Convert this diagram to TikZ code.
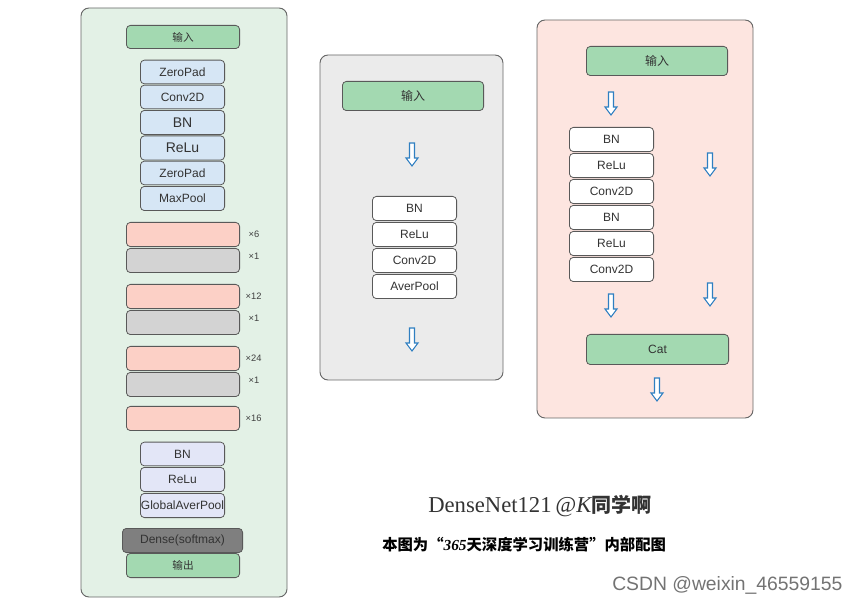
\documentclass[tikz,border=0pt]{standalone}
\usepackage{fontspec}
\setmainfont{Liberation Sans}
\newfontfamily\cjk{Noto Sans CJK SC}
\newfontfamily\serifx{Liberation Serif}
\definecolor{pgreen}{HTML}{E3F1E6}
\definecolor{pgray}{HTML}{EBEBEB}
\definecolor{ppink}{HTML}{FDE5E0}
\definecolor{bgreen}{HTML}{A3D9B1}
\definecolor{bblue}{HTML}{D6E6F5}
\definecolor{bpink}{HTML}{FCD0C6}
\definecolor{bgray}{HTML}{D3D3D3}
\definecolor{blav}{HTML}{E3E6F7}
\definecolor{bdark}{HTML}{7F7F7F}
\definecolor{arr}{HTML}{2F7FC1}
\tikzset{
 panel/.style={draw=black!60,line width=0.7pt,rounded corners=6pt},
 box/.style={draw=black!65,line width=0.6pt,rounded corners=3pt,inner sep=0pt,font=\fontsize{9}{10}\selectfont,text=black!80},
 mult/.style={font=\fontsize{7}{8}\selectfont,text=black!75,anchor=west},
 darr/.pic={\draw[arr,fill=white,line width=0.8pt] (-2.5,0)--(2.5,0)--(2.5,15)--(6,15)--(0,23)--(-6,15)--(-2.5,15)--cycle;}
}
\newcommand{\bx}[6]{\node[box,fill=#5,minimum width=#3*0.75pt-0.6pt,minimum height=#4*0.75pt-0.6pt] (#1) at (#2) {#6};}
\begin{document}
\begin{tikzpicture}[x=0.75pt,y=-0.75pt]
\useasboundingbox (0,0) rectangle (860,605);
% panels
\draw[panel,fill=pgreen] (81,8) rectangle (287,597);
\draw[panel,fill=pgray] (320,55) rectangle (503,380);
\draw[panel,fill=ppink] (537,20) rectangle (753,418);
% left column
\bx{lin}{183,37}{114}{24}{bgreen}{\cjk\fontsize{8}{9}\selectfont 输入}
\bx{l1}{182.5,72}{85}{24.5}{bblue}{ZeroPad}
\bx{l2}{182.5,97}{85}{24.5}{bblue}{Conv2D}
\bx{l3}{182.5,122.5}{85}{25}{bblue}{\fontsize{10.5}{11}\selectfont BN}
\bx{l4}{182.5,148}{85}{25}{bblue}{\fontsize{10.5}{11}\selectfont ReLu}
\bx{l5}{182.5,173}{85}{24.5}{bblue}{ZeroPad}
\bx{l6}{182.5,198.5}{85}{25}{bblue}{MaxPool}
\bx{p1}{183,234.5}{114}{25}{bpink}{}
\bx{g1}{183,260.5}{114}{25}{bgray}{}
\bx{p2}{183,296.5}{114}{25}{bpink}{}
\bx{g2}{183,322.5}{114}{25}{bgray}{}
\bx{p3}{183,358.5}{114}{25}{bpink}{}
\bx{g3}{183,384.5}{114}{25}{bgray}{}
\bx{p4}{183,418.5}{114}{25}{bpink}{}
\node[mult] (m1) at (244,234) {×6};
\node[mult] (m2) at (244,256) {×1};
\node[mult] (m3) at (241,296) {×12};
\node[mult] (m4) at (244,318) {×1};
\node[mult] (m5) at (241,358) {×24};
\node[mult] (m6) at (244,380) {×1};
\node[mult] (m7) at (241,418) {×16};
\bx{b1}{182.5,454}{85}{24.5}{blav}{BN}
\bx{b2}{182.5,479.5}{85}{25}{blav}{ReLu}
\bx{b3}{182.5,505.5}{85}{25}{blav}{GlobalAverPool}
\bx{dn}{182.5,540.5}{121}{25}{bdark}{Dense(softmax)}
\bx{lout}{183,565.5}{114}{25}{bgreen}{\cjk\fontsize{8}{9}\selectfont 输出}
% middle
\bx{min}{413,96}{142}{30}{bgreen}{\cjk\fontsize{9}{10}\selectfont 输入}
\pic at (412,143) {darr};
\bx{mb1}{414.5,208.5}{85}{25}{white}{BN}
\bx{mb2}{414.5,234.5}{85}{25}{white}{ReLu}
\bx{mb3}{414.5,260.5}{85}{25}{white}{Conv2D}
\bx{mb4}{414.5,286.5}{85}{25}{white}{AverPool}
\pic at (412,328) {darr};
% right
\bx{rin}{657,61}{142}{30}{bgreen}{\cjk\fontsize{9}{10}\selectfont 输入}
\pic at (611,92) {darr};
\bx{r1}{611.5,139.5}{85}{25}{white}{BN}
\bx{r2}{611.5,165.5}{85}{25}{white}{ReLu}
\bx{r3}{611.5,191.5}{85}{25}{white}{Conv2D}
\bx{r4}{611.5,217.5}{85}{25}{white}{BN}
\bx{r5}{611.5,243.5}{85}{25}{white}{ReLu}
\bx{r6}{611.5,269.5}{85}{25}{white}{Conv2D}
\pic at (710,153) {darr};
\pic at (611,294) {darr};
\pic at (710,283) {darr};
\bx{cat}{657.5,349.5}{143}{31}{bgreen}{Cat}
\pic at (657,378) {darr};
% texts
\node[inner sep=0pt,anchor=west,text=black!80] (t1) at (428,506) {\serifx\fontsize{17}{19}\selectfont DenseNet121\,{\itshape @K}{\cjk\bfseries\fontsize{15}{17}\selectfont 同学啊}};
\node[inner sep=0pt,anchor=west] (t2) at (382,545) {\cjk\bfseries\fontsize{11.5}{13}\selectfont 本图为“{\serifx\itshape 365}天深度学习训练营”内部配图};
\node[inner sep=0pt,anchor=west,text=black!55] (t3) at (612,585) {\fontsize{14.5}{16}\selectfont CSDN @weixin\_46559155};
\end{tikzpicture}
\end{document}
